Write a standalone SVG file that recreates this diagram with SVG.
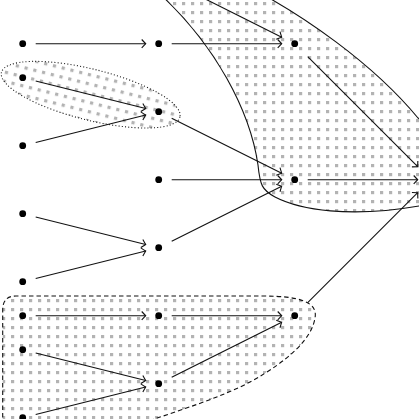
<svg xmlns="http://www.w3.org/2000/svg" width="419" height="419" viewBox="0 0 419 419">
<defs>
<pattern id="dots" patternUnits="userSpaceOnUse" width="9" height="9">
<rect x="2" y="2" width="3.2" height="3.2" fill="#b3b3b3"/>
</pattern>
<marker id="arr" viewBox="-6 -6 8 12" markerWidth="8" markerHeight="12" refX="0" refY="0" orient="auto" markerUnits="userSpaceOnUse">
<path d="M-4,-4.2 Q-1.2,-1.2 0,0 Q-1.2,1.2 -4,4.2" fill="none" stroke="#111" stroke-width="1.1"/>
</marker>
<style>
.edge{fill:none;stroke:#111;stroke-width:1.1;marker-end:url(#arr)}
.node circle{fill:#000}
.region{fill:url(#dots);stroke:#111;stroke-width:1.1}
</style>
</defs>
<rect width="419" height="419" fill="#fff"/>
<g id="regions">
<path id="region-topright" class="region" d="M160,-6 C215,45 250,110 258,165 C260,185 262,190 275,197 C300,210 350,218 419,206 L470,196 L470,150 L418,118 C370,60 300,15 262,-6 Z"/>
<ellipse id="region-dotted" class="region" cx="90.7" cy="94.7" rx="92" ry="25.5" transform="rotate(14.04 90.7 94.7)" stroke-dasharray="1 2.2"/>
<path id="region-dashed" class="region" d="M2.7,425 L2.7,310 Q2.7,296 16,296 L262,296 C300,296 318,302 315,318 C312,338 290,360 250,382 C220,398 180,410 140,424" stroke-dasharray="4.5 3"/>
</g>
<g id="connectors">
<line class="edge" x1="35.7" y1="43.7" x2="145.7" y2="43.7"/>
<line class="edge" x1="171.7" y1="43.7" x2="281.7" y2="43.7"/>
<line class="edge" x1="171.7" y1="-17.8" x2="281.7" y2="37.2"/>
<line class="edge" x1="35.7" y1="80.95" x2="145.7" y2="108.45"/>
<line class="edge" x1="35.7" y1="142.45" x2="145.7" y2="114.95"/>
<line class="edge" x1="171.7" y1="118.2" x2="281.7" y2="173.2"/>
<line class="edge" x1="171.7" y1="179.7" x2="281.7" y2="179.7"/>
<line class="edge" x1="171.7" y1="241.2" x2="281.7" y2="186.2"/>
<line class="edge" x1="35.7" y1="216.95" x2="145.7" y2="244.45"/>
<line class="edge" x1="35.7" y1="278.45" x2="145.7" y2="250.95"/>
<line class="edge" x1="35.7" y1="315.7" x2="145.7" y2="315.7"/>
<line class="edge" x1="171.7" y1="315.7" x2="281.7" y2="315.7"/>
<line class="edge" x1="35.7" y1="352.95" x2="145.7" y2="380.45"/>
<line class="edge" x1="35.7" y1="414.45" x2="145.7" y2="386.95"/>
<line class="edge" x1="171.7" y1="377.2" x2="281.7" y2="322.2"/>
<line class="edge" x1="307.7" y1="302.7" x2="417.7" y2="192.7"/>
<line class="edge" x1="307.7" y1="179.7" x2="417.7" y2="179.7"/>
<line class="edge" x1="307.7" y1="56.7" x2="417.7" y2="166.7"/>
</g>
<g id="n1-0" class="node"><circle cx="22.7" cy="43.7" r="3.4"/></g>
<g id="n1-1" class="node"><circle cx="22.7" cy="77.7" r="3.4"/></g>
<g id="n1-3" class="node"><circle cx="22.7" cy="145.7" r="3.4"/></g>
<g id="n1-5" class="node"><circle cx="22.7" cy="213.7" r="3.4"/></g>
<g id="n1-7" class="node"><circle cx="22.7" cy="281.7" r="3.4"/></g>
<g id="n1-8" class="node"><circle cx="22.7" cy="315.7" r="3.4"/></g>
<g id="n1-9" class="node"><circle cx="22.7" cy="349.7" r="3.4"/></g>
<g id="n1-11" class="node"><circle cx="22.7" cy="417.7" r="3.4"/></g>
<g id="n2-0" class="node"><circle cx="158.7" cy="43.7" r="3.4"/></g>
<g id="n2-2" class="node"><circle cx="158.7" cy="111.7" r="3.4"/></g>
<g id="n2-4" class="node"><circle cx="158.7" cy="179.7" r="3.4"/></g>
<g id="n2-6" class="node"><circle cx="158.7" cy="247.7" r="3.4"/></g>
<g id="n2-8" class="node"><circle cx="158.7" cy="315.7" r="3.4"/></g>
<g id="n2-10" class="node"><circle cx="158.7" cy="383.7" r="3.4"/></g>
<g id="n3-0" class="node"><circle cx="294.7" cy="43.7" r="3.4"/></g>
<g id="n3-4" class="node"><circle cx="294.7" cy="179.7" r="3.4"/></g>
<g id="n3-8" class="node"><circle cx="294.7" cy="315.7" r="3.4"/></g>
</svg>
